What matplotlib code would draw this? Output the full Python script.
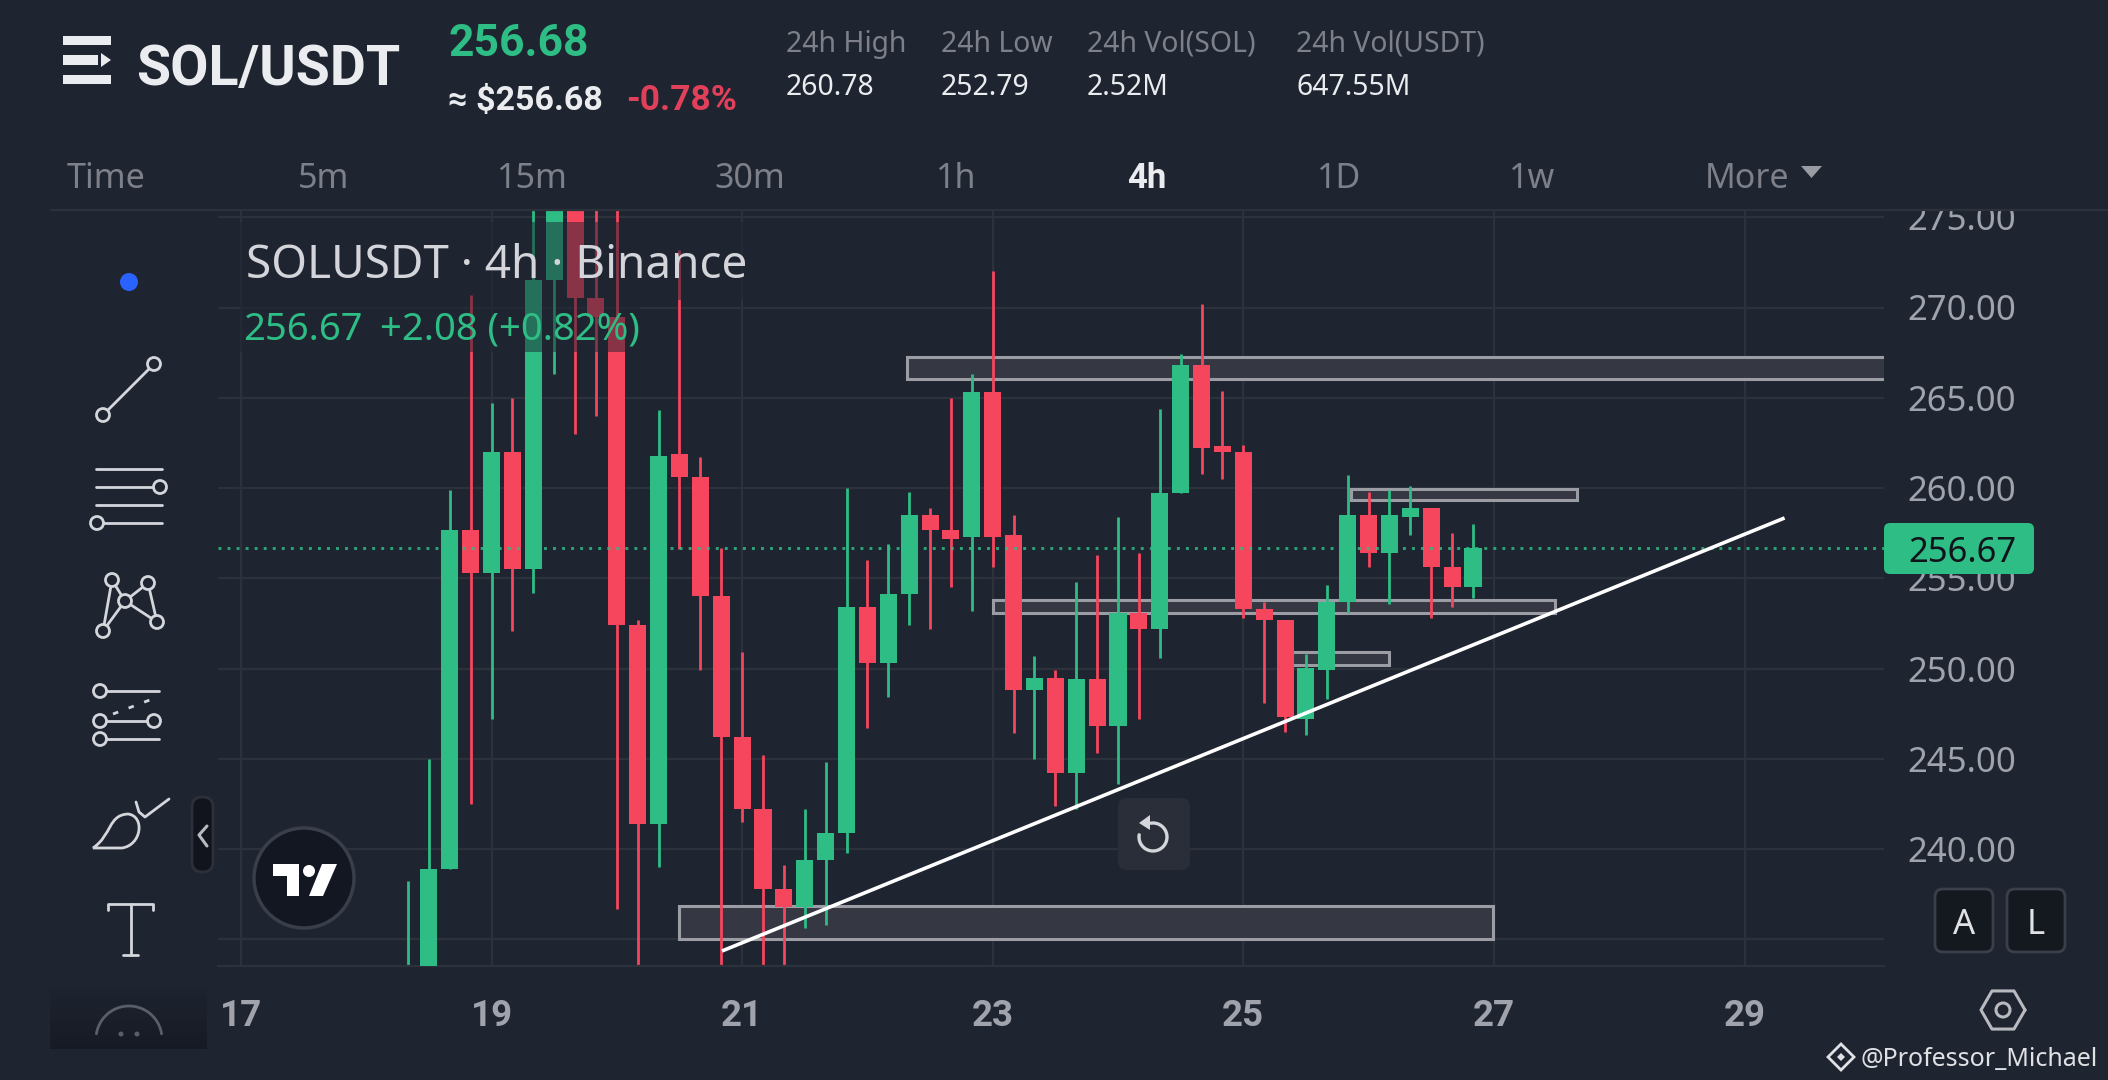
import numpy as np
import matplotlib
matplotlib.use("Agg")
import matplotlib.pyplot as plt
from matplotlib.patches import Rectangle, FancyBboxPatch, Circle, Polygon, PathPatch
from matplotlib.path import Path

plt.rcParams['font.family'] = ['Noto Sans', 'DejaVu Sans']
BOLD_FONT = ['Roboto', 'DejaVu Sans']

###############################################################################
# Data
###############################################################################
# one candle every 4h, index 0 is the candle at day 19
candle_index = list(range(-4, 48))
opens = [230, 232, 238.9, 257.7, 255.3, 262, 255.5, 271.5, 282, 270.5, 269.5, 252.4, 241.4,
         261.9, 260.6, 254, 246.2, 242.2, 237.8, 236.8, 239.4, 240.9, 253.4, 250.3, 254.1,
         258.5, 257.7, 257.3, 265.3, 257.4, 248.8, 249.5, 244.2, 249.4, 246.8, 253.1, 252.2,
         259.7, 266.8, 262.3, 262, 253.3, 252.7, 247.2, 249.9, 253.7, 258.5, 256.4, 258.4,
         258.9, 255.6, 254.5]
closes = [232, 238.9, 257.7, 255.3, 262, 255.5, 271.5, 278, 270.5, 269.5, 252.4, 241.4, 261.8,
          260.6, 254, 246.2, 242.2, 237.8, 236.8, 239.4, 240.9, 253.4, 250.3, 254.1, 258.5,
          257.7, 257.2, 265.3, 257.3, 248.8, 249.5, 244.2, 249.4, 246.8, 253.1, 252.2, 259.7,
          266.8, 262.2, 262, 253.3, 252.7, 247.3, 250, 253.7, 258.5, 256.4, 258.5, 258.9,
          255.6, 254.5, 256.67]
highs = [238.2, 245, 259.9, 270.7, 264.7, 265, 278, 280, 283, 280, 280, 252.7, 264.3,
         273.2, 261.7, 256.7, 250.9, 245.2, 239.1, 242.2, 244.8, 260, 256, 256.9, 259.8,
         258.9, 265, 266.3, 272, 258.5, 250.7, 249.9, 254.8, 256.3, 258.4, 256.4, 264.4,
         267.4, 270.2, 265.4, 262.4, 253.7, 252.7, 250.8, 254.6, 260.7, 259.8, 259.9, 260.1,
         258.9, 257.5, 258]
lows = [228, 230, 238.9, 242.5, 247.2, 252.1, 254.2, 266.3, 263, 264, 236.7, 230, 239,
        256.6, 249.9, 230, 241.5, 230, 230, 235.6, 235.8, 239.8, 246.7, 248.4, 252.4,
        252.2, 254.5, 253.2, 255.6, 246.4, 245, 242.4, 242.2, 245.3, 243.6, 247.2, 250.6,
        259.7, 260.8, 260.5, 252.8, 248.1, 246.5, 246.3, 248.3, 253.1, 255.6, 253.6, 257.4,
        252.8, 253.4, 253.9]

last_price = 256.67
price_ticks = [235, 240, 245, 250, 255, 260, 265, 270, 275]
price_labels = ['', '240.00', '245.00', '250.00', '255.00', '260.00', '265.00', '270.00', '275.00']
day_ticks = [17, 19, 21, 23, 25, 27, 29]

# drawn zones: day start, day end, price low, price high
zone_x0 = [22.32, 23.0, 25.38, 25.86, 20.5]
zone_x1 = [31.0, 27.49, 26.16, 27.66, 26.99]
zone_y0 = [266.05, 253.05, 250.2, 259.35, 235.0]
zone_y1 = [267.25, 253.8, 250.9, 259.93, 236.85]

trend_days = [20.84, 29.32]
trend_prices = [234.35, 258.34]

stat_titles = ['24h High', '24h Low', '24h Vol(SOL)', '24h Vol(USDT)']
stat_values = ['260.78', '252.79', '2.52M', '647.55M']
intervals = ['Time', '5m', '15m', '30m', '1h', '4h', '1D', '1w', 'More']

###############################################################################
# Colours and layout
###############################################################################
BG = '#1e2430'
GRID = '#2c313c'
GREEN = '#2ebd85'
RED = '#f6465d'
ICON = '#d4d6dc'
W, H = 2108, 1080
AX_L, AX_R, AX_T, AX_B = 218, 1884, 210, 966
PX_PER_DAY = 125.3
PX_PER_USD = 18.05

fig = plt.figure(figsize=(W / 100, H / 100), dpi=100, facecolor=BG)

ax = fig.add_axes([AX_L / W, 1 - AX_B / H, (AX_R - AX_L) / W, (AX_B - AX_T) / H], facecolor=BG)
ax.set_xlim(19 + (AX_L - 491.5) / PX_PER_DAY, 19 + (AX_R - 491.5) / PX_PER_DAY)
ax.set_ylim(260 - (AX_B - 488) / PX_PER_USD, 260 - (AX_T - 488) / PX_PER_USD)

for s in ['top', 'left', 'right']:
    ax.spines[s].set_visible(False)
ax.spines['bottom'].set_color(GRID)
ax.spines['bottom'].set_linewidth(1.6)

ax.set_yticks(price_ticks)
ax.set_yticklabels(price_labels)
ax.set_xticks(day_ticks)
ax.set_xticklabels([str(d) for d in day_ticks], fontweight='bold', family=BOLD_FONT)
ax.yaxis.tick_right()
ax.tick_params(axis='y', length=0, pad=17, labelsize=25, labelcolor='#a0a3ab')
ax.tick_params(axis='x', length=0, pad=23, labelsize=26.5, labelcolor='#a0a3ab')
ax.grid(True, color=GRID, linewidth=1.6, zorder=0)
ax.set_axisbelow(True)

# zones go under the candles
for x0, x1, y0, y1 in zip(zone_x0, zone_x1, zone_y0, zone_y1):
    ax.add_patch(Rectangle((x0, y0), x1 - x0, y1 - y0, facecolor='#353843',
                           edgecolor='#9b9ca4', linewidth=2.2, zorder=1))

# candles
days = 19 + np.array(candle_index) / 6
o = np.array(opens)
c = np.array(closes)
colors = [GREEN if cc >= oo else RED for oo, cc in zip(o, c)]
ax.vlines(days, lows, highs, colors=colors, linewidth=2.0, zorder=2)
ax.bar(days, np.abs(c - o), bottom=np.minimum(o, c), width=0.136, color=colors, zorder=3)

ax.plot(trend_days, trend_prices, color='white', linewidth=2.6, zorder=5, solid_capstyle='butt')
ax.axhline(last_price, color=GREEN, alpha=0.85, linewidth=2.1, linestyle=(0, (1, 2.1)), zorder=4)

###############################################################################
# Overlay in pixel coordinates for the app chrome
###############################################################################
ov = fig.add_axes([0, 0, 1, 1], zorder=10)
ov.set_xlim(0, W)
ov.set_ylim(H, 0)
ov.axis('off')
ov.patch.set_alpha(0)


def txt(x, y, s, size, color, weight='normal', ha='left', family=None):
    ov.text(x, y, s, fontsize=size, color=color, fontweight=weight, ha=ha, va='center_baseline',
            family=family)


def line(xs, ys, color=ICON, lw=2.0):
    ov.plot(xs, ys, color=color, linewidth=lw, solid_capstyle='round')


def ring(x, y, r=6.5, color=ICON, lw=2.0):
    ov.add_patch(Circle((x, y), r, facecolor=BG, edgecolor=color, linewidth=lw, zorder=4))


# header band hides the top of the chart
ov.add_patch(Rectangle((0, 0), W, AX_T, facecolor=BG, edgecolor='none'))
ov.plot([51, W], [AX_T, AX_T], color=GRID, linewidth=1.6)

# legend backdrop dims what runs under it
ov.add_patch(Rectangle((240, 222), 510, 78, facecolor=BG, edgecolor='none', alpha=0.5))
ov.add_patch(Rectangle((240, 300), 400, 52, facecolor=BG, edgecolor='none', alpha=0.5))
txt(246, 261, 'SOLUSDT · 4h · Binance', 33, '#d4d5db')
txt(243, 325, '256.67', 27.5, GREEN)
txt(380, 325, '+2.08 (+0.82%)', 27.5, GREEN)

# header
ov.add_patch(Rectangle((63, 36), 48, 9, facecolor='#eaecef'))
ov.add_patch(Rectangle((63, 75), 48, 9, facecolor='#eaecef'))
ov.add_patch(Rectangle((63, 55), 35, 10, facecolor='#eaecef'))
ov.add_patch(Polygon([(101, 53), (111, 60), (101, 67)], facecolor='#eaecef'))
txt(136, 64, 'SOL/USDT', 40, '#eaecef', 'bold', family=BOLD_FONT)
txt(448, 40, '256.68', 32, GREEN, 'bold', family=BOLD_FONT)
txt(448, 97, '≈ $256.68', 24.5, '#eaecef', 'bold', family=BOLD_FONT)
txt(626, 97, '-0.78%', 25.5, '#e0405a', 'bold', family=BOLD_FONT)

stat_x = [786, 941, 1087, 1296]
for sx, title, val in zip(stat_x, stat_titles, stat_values):
    txt(sx, 41, title, 20.4, '#7d8089')
    txt(sx, 84, val, 20.4, '#eaecef')

interval_x = [106, 323, 532, 750, 956, 1147, 1339, 1532, 1747]
for ix, label in zip(interval_x, intervals):
    if label == '4h':
        txt(ix, 175, label, 25, '#eaecef', 'bold', ha='center', family=BOLD_FONT)
    else:
        txt(ix, 175, label, 24.5, '#7d8089', ha='center')
ov.add_patch(Polygon([(1801, 166), (1822, 166), (1811.5, 178)], facecolor='#9a9ca3'))

# price tag
ov.add_patch(FancyBboxPatch((1884, 523), 150, 51, boxstyle='round,pad=0,rounding_size=6',
                            facecolor=GREEN, edgecolor='none'))
txt(1963, 549, '256.67', 25, '#10131a', ha='center')

# left toolbar
ov.add_patch(Circle((129, 282), 9, facecolor='#2962ff', edgecolor='none'))

line([103, 154], [415, 364])
ring(154, 364)
ring(103, 415)

line([96, 162], [469, 469])
line([96, 155], [487, 487])
line([96, 162], [505, 505])
line([100, 162], [523, 523])
ring(160, 487)
ring(97, 523)

xs = [103, 112, 125, 148, 157, 125, 103]
ys = [631, 580, 601, 583, 622, 601, 631]
line(xs, ys)
for px, py in zip(xs[:5], ys[:5]):
    ring(px, py)

line([100, 159], [691, 691])
line([100, 154], [721, 721])
line([100, 159], [739, 739])
ov.plot([113, 155], [714, 698], color=ICON, linewidth=2.0, linestyle=(0, (2, 4)))
for px, py in [(100, 691), (100, 721), (154, 721), (100, 739)]:
    ring(px, py)

brush = Path([(93, 848), (112, 835), (108, 815), (128, 814), (145, 816), (142, 845), (122, 848), (93, 848)],
             [Path.MOVETO, Path.CURVE4, Path.CURVE4, Path.CURVE4, Path.CURVE4, Path.CURVE4, Path.CURVE4, Path.CLOSEPOLY])
ov.add_patch(PathPatch(brush, facecolor='none', edgecolor=ICON, linewidth=2.0))
line([136, 139, 145, 169], [802, 812, 817, 799])

line([108, 108, 153, 153], [910, 904, 904, 910])
line([131, 131], [904, 955])
line([123, 138], [955, 955])

# fade at the bottom of the toolbar
fade = np.linspace(0, 1, 40).reshape(-1, 1)
ov.imshow(fade, extent=(50, 207, 1049, 987), aspect='auto', zorder=1, alpha=0.55,
          cmap=matplotlib.colors.LinearSegmentedColormap.from_list('fade', [BG, '#10131a']))
ov.set_xlim(0, W)
ov.set_ylim(H, 0)
t = np.linspace(np.pi * 1.05, np.pi * 1.95, 40)
line(129 + 33 * np.cos(t), 1039 + 33 * np.sin(t), color='#5a5e68', lw=2.0)
ov.add_patch(Circle((121, 1034), 2.5, facecolor='#5a5e68'))
ov.add_patch(Circle((137, 1034), 2.5, facecolor='#5a5e68'))

# collapse handle
ov.add_patch(FancyBboxPatch((192, 797), 21, 75, boxstyle='round,pad=0,rounding_size=10',
                            facecolor='#11141c', edgecolor='#2c303a', linewidth=2))
line([207, 199, 207], [826, 835, 846], color='#b8bac0', lw=2.2)

# tradingview badge
ov.add_patch(Circle((304, 878), 50, facecolor='#131722', edgecolor='#3a3e4a', linewidth=2.5))
ov.add_patch(Polygon([(273, 864), (299, 864), (299, 896), (287, 896), (287, 876), (273, 876)], facecolor='white'))
ov.add_patch(Circle((309, 871), 6, facecolor='white'))
ov.add_patch(Polygon([(322, 864), (337, 864), (323, 896), (309, 896)], facecolor='white'))

# reset button
ov.add_patch(FancyBboxPatch((1118, 798), 72, 72, boxstyle='round,pad=0,rounding_size=9',
                            facecolor='#2a2e38', edgecolor='none'))
t = np.linspace(-np.pi * 0.55, np.pi * 1.05, 40)
line(1153 + 14 * np.cos(t), 837 + 14 * np.sin(t), lw=2.4)
ov.add_patch(Polygon([(1150, 815), (1150, 830), (1139, 823)], facecolor=ICON))

# auto / log buttons
for bx, letter in [(1935, 'A'), (2007, 'L')]:
    ov.add_patch(FancyBboxPatch((bx, 889), 58, 63, boxstyle='round,pad=0,rounding_size=8',
                                facecolor='#14181f', edgecolor='#3a3f4a', linewidth=2))
    txt(bx + 29, 921, letter, 25, '#e0e1e5', ha='center')

# settings hexagon
t = np.linspace(0, 2 * np.pi, 7)
line(2003 + 22 * np.cos(t), 1010 + 22 * np.sin(t), color='#b8bac0', lw=2.2)
ov.add_patch(Circle((2003, 1010), 7, facecolor='none', edgecolor='#b8bac0', linewidth=2.2))

# watermark
ov.add_patch(Polygon([(1841, 1044), (1854, 1057), (1841, 1070), (1828, 1057)],
                     facecolor='none', edgecolor='#e0e1e5', linewidth=2))
ov.add_patch(Polygon([(1841, 1053), (1845, 1057), (1841, 1061), (1837, 1057)], facecolor='#e0e1e5'))
txt(1861, 1056, '@Professor_Michael', 18, '#e0e1e5')

fig.savefig('out.png', dpi=100, facecolor=BG)
